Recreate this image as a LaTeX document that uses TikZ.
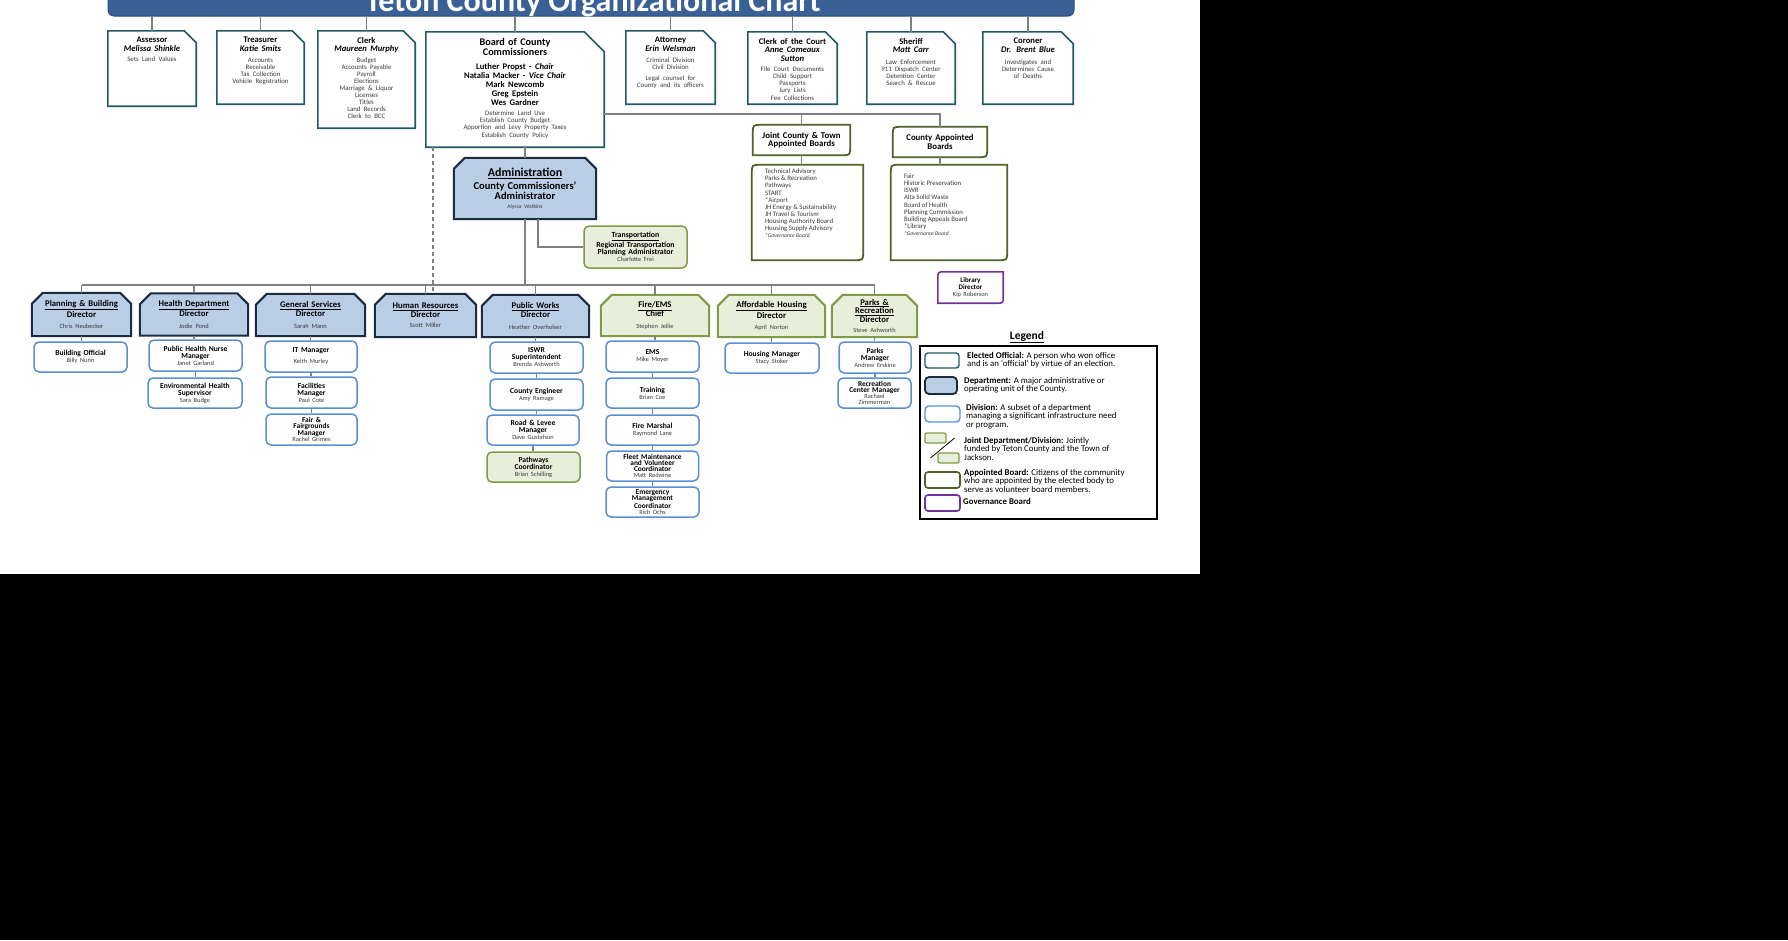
\documentclass[tikz,border=0pt]{standalone}
\usepackage{fontspec}
\setmainfont{Carlito}

\definecolor{titleblue}{HTML}{3A6195}
\definecolor{barline}{HTML}{2B4A73}
\definecolor{electedline}{HTML}{215A66}
\definecolor{deptline}{HTML}{1C2B40}
\definecolor{deptfill}{HTML}{B9CDE5}
\definecolor{divline}{HTML}{5B8FD3}
\definecolor{jointline}{HTML}{7F9B48}
\definecolor{jointfill}{HTML}{E8EED9}
\definecolor{boardline}{HTML}{4F6228}
\definecolor{govline}{HTML}{7030A0}
\definecolor{linkgray}{HTML}{808080}
\definecolor{smalltext}{HTML}{3A3A3A}

\setlength{\lineskiplimit}{-6pt}

\newcommand{\ttl}{\fontsize{8.6}{8.5}\selectfont\bfseries}
\newcommand{\sml}{\fontsize{6.8}{7.1}\selectfont\color{smalltext}}
\newcommand{\dpt}{\fontsize{8.7}{8.6}\selectfont\bfseries}
\newcommand{\dvt}{\fontsize{7.6}{7}\selectfont\bfseries}
\newcommand{\person}[1]{{\fontsize{6.4}{7}\selectfont\mdseries\color{smalltext}#1}}

\tikzset{
  link/.style={draw=linkgray, line width=1.5pt},
  cutNE/.style 2 args={append after command={\pgfextra{\draw[#2]
      (\tikzlastnode.south west) -- (\tikzlastnode.north west)
      -- ([xshift=-#1]\tikzlastnode.north east) -- ([yshift=-#1]\tikzlastnode.north east)
      -- (\tikzlastnode.south east) -- cycle;}}},
  cutTop/.style 2 args={append after command={\pgfextra{\draw[#2]
      (\tikzlastnode.south west) -- ([yshift=-#1]\tikzlastnode.north west)
      -- ([xshift=#1]\tikzlastnode.north west) -- ([xshift=-#1]\tikzlastnode.north east)
      -- ([yshift=-#1]\tikzlastnode.north east) -- (\tikzlastnode.south east) -- cycle;}}},
  roundDiag/.style 2 args={append after command={\pgfextra{\draw[#2]
      (\tikzlastnode.south west) -- ([yshift=-#1]\tikzlastnode.north west)
      .. controls (\tikzlastnode.north west) .. ([xshift=#1]\tikzlastnode.north west)
      -- (\tikzlastnode.north east) -- ([yshift=#1]\tikzlastnode.south east)
      .. controls (\tikzlastnode.south east) .. ([xshift=-#1]\tikzlastnode.south east)
      -- cycle;}}},
  elected/.style={rectangle, inner sep=0pt, cutNE={#1}{draw=electedline, line width=1.6pt, fill=white}},
  elected/.default=12pt,
  department/.style={rectangle, inner sep=0pt, align=center, font=\dpt,
      cutTop={11pt}{draw=deptline, line width=2pt, fill=deptfill}},
  jointdept/.style={rectangle, inner sep=0pt, align=center, font=\dpt,
      cutTop={11pt}{draw=jointline, line width=2pt, fill=jointfill}},
  division/.style={rectangle, rounded corners=5pt, draw=divline, line width=1.5pt, fill=white,
      inner sep=0pt, align=center, font=\dvt},
  jointdiv/.style={division, draw=jointline, fill=jointfill},
  tight/.style={font=\fontsize{7.4}{6.2}\selectfont\bfseries},
  boardbox/.style={rectangle, inner sep=0pt, align=center,
      roundDiag={9pt}{draw=boardline, line width=1.8pt, fill=white}},
  govbox/.style={rectangle, inner sep=0pt, align=center,
      roundDiag={7pt}{draw=govline, line width=1.6pt, fill=white}},
  toplab/.style={anchor=north, yshift=-6pt, inner sep=0pt, align=center, text width=#1},
  listlab/.style={anchor=north west, inner sep=0pt, align=left, font=\sml, xshift=13pt, yshift=-4pt},
  sample/.style={rectangle, rounded corners=3pt, line width=1.4pt, fill=white, inner sep=0pt},
  legtext/.style={anchor=north west, inner sep=0pt, align=left, font=\fontsize{8.8}{8.6}\selectfont},
}

\begin{document}
\begin{tikzpicture}[x=1pt, y=-1pt]

  \useasboundingbox (0,0) rectangle (1788,940);
  \fill[black] (0,0) rectangle (1788,940);
  \fill[white] (0,0) rectangle (1200,574);
  \clip (0,0) rectangle (1200,574);

  % title bar
  \node[rectangle, rounded corners=6pt, draw=barline, line width=1pt, fill=titleblue,
        minimum width=966pt, minimum height=40pt] (bar) at (591,-4) {};
  \node[anchor=base, text=white, font=\fontsize{32}{32}\selectfont\bfseries] (title) at (593,11)
       {Teton County Organizational Chart};

  % elected officials
  \node[elected, minimum width=88pt, minimum height=75pt,
        label={[toplab=82pt]north:{{\ttl Assessor\\\textit{Melissa Shinkle}\endgraf}\vspace{3.5pt}%
        {\sml Sets Land Values\endgraf}}}] (assessor) at (152,68.5) {};
  \node[elected, minimum width=87pt, minimum height=73pt,
        label={[toplab=81pt]north:{{\ttl Treasurer\\\textit{Katie Smits}\endgraf}\vspace{4pt}%
        {\sml Accounts\\Receivable\\Tax Collection\\Vehicle Registration\endgraf}}}] (treasurer) at (260.5,67.5) {};
  \node[elected, minimum width=97pt, minimum height=97pt,
        label={[toplab=91pt]north:{{\ttl Clerk\\\textit{Maureen Murphy}\endgraf}\vspace{3.5pt}%
        {\sml Budget\\Accounts Payable\\Payroll\\Elections\\Marriage \& Liquor\\Licenses\\Titles\\Land Records\\Clerk to BCC\endgraf}}}] (clerk) at (366.5,79.5) {};
  \node[elected=20pt, minimum width=178pt, minimum height=115pt,
        label={[toplab=170pt, yshift=-0.5pt]north:{{\fontsize{10.2}{10}\selectfont\bfseries Board of County\\Commissioners\endgraf}\vspace{5.5pt}%
        {\fontsize{8.6}{8.8}\selectfont\bfseries Luther Propst - \textit{Chair}\\Natalia Macker - \textit{Vice Chair}\\Mark Newcomb\\Greg Epstein\\Wes Gardner\endgraf}\vspace{3.5pt}%
        {\sml Determine Land Use\\Establish County Budget\\Apportion and Levy Property Taxes\\Establish County Policy\endgraf}}}] (board) at (515,89.5) {};
  \node[elected, minimum width=89pt, minimum height=73pt,
        label={[toplab=83pt]north:{{\ttl Attorney\\\textit{Erin Welsman}\endgraf}\vspace{4pt}%
        {\sml Criminal Division\\Civil Division\\[4pt]Legal counsel for\\County and its officers\endgraf}}}] (attorney) at (670.5,67.5) {};
  \node[elected, minimum width=89pt, minimum height=72pt,
        label={[toplab=83pt]north:{{\ttl Clerk of the Court\\\textit{Anne Comeaux}\\\textit{Sutton}\endgraf}\vspace{3.5pt}%
        {\sml File Court Documents\\Child Support\\Passports\\Jury Lists\\Fee Collections\endgraf}}}] (courtclerk) at (792.5,68) {};
  \node[elected, minimum width=88pt, minimum height=72pt,
        label={[toplab=82pt]north:{{\ttl Sheriff\\\textit{Matt Carr}\endgraf}\vspace{4.5pt}%
        {\sml Law Enforcement\\911 Dispatch Center\\Detention Center\\Search \& Rescue\endgraf}}}] (sheriff) at (911,68) {};
  \node[elected, minimum width=90pt, minimum height=72pt,
        label={[toplab=84pt]north:{{\ttl Coroner\\\textit{Dr. Brent Blue}\endgraf}\vspace{5pt}%
        {\sml Investigates and\\Determines Cause\\of Deaths\endgraf}}}] (coroner) at (1028,68) {};

  % administration
  \node[department, minimum width=142pt, minimum height=61pt, text width=136pt] (admin) at (525,188.5)
       {{\fontsize{12}{12}\selectfont\underline{Administration}\endgraf}\vspace{2pt}%
        {\fontsize{10.5}{10.5}\selectfont County Commissioners'\\Administrator\endgraf}%
        {\fontsize{5.6}{8.5}\selectfont\mdseries\color{smalltext}Alyssa Watkins\endgraf}};
  \node[jointdiv, minimum width=103pt, minimum height=42pt, text width=100pt,
        font=\fontsize{7.8}{7.4}\selectfont\bfseries] (transport) at (635.5,247)
       {\underline{Transportation}\\Regional Transportation\\Planning Administrator\\\person{Charlotte Frei}};

  % appointed boards
  \node[boardbox, minimum width=97pt, minimum height=30pt, text width=93pt,
        font=\fontsize{8.8}{8.6}\selectfont\bfseries] (jtab) at (801.5,140) {Joint County \& Town\\Appointed Boards};
  \node[boardbox, minimum width=94pt, minimum height=30pt, text width=90pt,
        font=\fontsize{8.8}{8.6}\selectfont\bfseries] (cab) at (940,142) {County Appointed\\Boards};
  \node[boardbox, minimum width=111pt, minimum height=95pt,
        label={[listlab]north west:{Technical Advisory\\Parks \& Recreation\\Pathways\\START\\*Airport\\JH Energy \& Sustainability\\JH Travel \& Tourism\\Housing Authority Board\\Housing Supply Advisory\\{\fontsize{5.6}{7.1}\selectfont\itshape *Governance Board}}}] (jtlist) at (807.5,212.5) {};
  \node[boardbox, minimum width=116pt, minimum height=95pt,
        label={[listlab, yshift=-5pt]north west:{Fair\\Historic Preservation\\ISWR\\Alta Solid Waste\\Board of Health\\Planning Commission\\Building Appeals Board\\*Library\\{\fontsize{5.6}{7.1}\selectfont\itshape *Governance Board}}}] (calist) at (949,212.5) {};
  \node[govbox, minimum width=65pt, minimum height=31pt, text width=61pt,
        font=\fontsize{7}{7.4}\selectfont\bfseries] (library) at (970.5,287.5) {Library\\Director\\\person{Kip Roberson}};

  % departments
  \node[department, minimum width=99pt, minimum height=43pt, text width=95pt] (planning) at (81.5,314.5)
       {\underline{Planning \& Building}\\Director\\[3pt]\person{Chris Neubecker}};
  \node[department, minimum width=108pt, minimum height=42pt, text width=104pt] (health) at (194,314.5)
       {\underline{Health Department}\\Director\\[3pt]\person{Jodie Pond}};
  \node[department, minimum width=109pt, minimum height=42pt, text width=105pt] (gensvc) at (310.5,315)
       {\underline{General Services}\\Director\\[3pt]\person{Sarah Mann}};
  \node[department, minimum width=101pt, minimum height=43pt, text width=97pt] (hr) at (425.5,315.5)
       {\underline{Human Resources}\\Director\\[2pt]\person{Scott Miller}};
  \node[department, minimum width=107pt, minimum height=42pt, text width=103pt] (pubw) at (535.5,316)
       {\underline{Public Works}\\Director\\[3pt]\person{Heather Overholser}};
  \node[jointdept, minimum width=108pt, minimum height=41pt, text width=104pt] (fire) at (655,315.5)
       {\underline{Fire/EMS}\\Chief\\[3pt]\person{Stephen Jellie}};
  \node[jointdept, minimum width=107pt, minimum height=42pt, text width=103pt] (afh) at (771.5,316)
       {\underline{Affordable Housing}\\Director\\[3pt]\person{April Norton}};
  \node[jointdept, minimum width=85pt, minimum height=42pt, text width=81pt] (parks) at (874.5,316)
       {\underline{Parks \&}\\\underline{Recreation}\\Director\\[2pt]\person{Steve Ashworth}};

  % divisions
  \node[division, minimum width=93pt, minimum height=30pt, text width=89pt] (bldg) at (80.5,357)
       {Building Official\\\person{Billy Nunn}};
  \node[division, minimum width=93pt, minimum height=31pt, text width=89pt] (phn) at (195.5,355.5)
       {Public Health Nurse\\Manager\\\person{Janet Garland}};
  \node[division, minimum width=94pt, minimum height=30pt, text width=90pt] (envh) at (195,393)
       {Environmental Health\\Supervisor\\\person{Sara Budge}};
  \node[division, minimum width=92pt, minimum height=31pt, text width=88pt] (itmgr) at (311,356.5)
       {IT Manager\\[4pt]\person{Keith Murley}};
  \node[division, minimum width=91pt, minimum height=31pt, text width=87pt] (facil) at (311.5,392.5)
       {Facilities\\Manager\\\person{Paul Cote}};
  \node[division, tight, minimum width=91pt, minimum height=31pt, text width=87pt] (fair) at (311.5,429.5)
       {Fair \&\\Fairgrounds\\Manager\\\person{Rachel Grimes}};
  \node[division, minimum width=93pt, minimum height=31pt, text width=89pt] (iswr) at (536.5,357.5)
       {ISWR\\Superintendent\\\person{Brenda Ashworth}};
  \node[division, minimum width=93pt, minimum height=31pt, text width=89pt] (engr) at (536.5,394.5)
       {County Engineer\\\person{Amy Ramage}};
  \node[division, minimum width=92pt, minimum height=30pt, text width=88pt] (road) at (533,430)
       {Road \& Levee\\Manager\\\person{Dave Gustafson}};
  \node[jointdiv, minimum width=93pt, minimum height=30pt, text width=89pt] (pathw) at (533.5,467)
       {Pathways\\Coordinator\\\person{Brian Schilling}};
  \node[division, minimum width=93pt, minimum height=31pt, text width=89pt] (ems) at (652.5,356.5)
       {EMS\\\person{Mike Moyer}};
  \node[division, minimum width=93pt, minimum height=30pt, text width=89pt] (train) at (652.5,393)
       {Training\\\person{Brian Coe}};
  \node[division, minimum width=93pt, minimum height=30pt, text width=89pt] (marsh) at (652.5,430)
       {Fire Marshal\\\person{Raymond Lane}};
  \node[division, tight, minimum width=92pt, minimum height=30pt, text width=88pt] (fleet) at (652.5,466)
       {Fleet Maintenance\\and Volunteer\\Coordinator\\\person{Matt Redwine}};
  \node[division, tight, minimum width=93pt, minimum height=30pt, text width=89pt] (emerg) at (652.5,502)
       {Emergency\\Management\\Coordinator\\\person{Rich Ochs}};
  \node[division, minimum width=94pt, minimum height=30pt, text width=90pt] (housing) at (772,358)
       {Housing Manager\\\person{Stacy Stoker}};
  \node[division, minimum width=72pt, minimum height=31pt, text width=68pt] (parksmgr) at (875,357.5)
       {Parks\\Manager\\\person{Andrew Erskine}};
  \node[division, tight, minimum width=73pt, minimum height=30pt, text width=69pt] (rec) at (874.5,393)
       {Recreation\\Center Manager\\\person{Rachael}\\\person{Zimmerman}};

  % connectors
  \foreach \n in {assessor, treasurer, clerk, board, attorney, courtclerk, sheriff, coroner}
    \draw[link] (bar.south -| \n.north) -- (\n.north);
  \draw[link] (board.south -| admin.north) -- (admin.north);
  \draw[link, line width=1.2pt, dash pattern=on 4pt off 3pt] ([xshift=-82pt]board.south) -- ([xshift=-82pt]board.south |- hr.north);

  \coordinate (boardbus) at (940,114);
  \draw[link] (board.east |- boardbus) -- (boardbus) -- (cab.north);
  \draw[link] (jtab.north |- boardbus) -- (jtab.north);
  \draw[link] (jtab.south) -- (jtab.south |- jtlist.north);
  \draw[link] (cab.south) -- (cab.south |- calist.north);

  \coordinate (deptbus) at (525,285);
  \draw[link] (admin.south) -- (deptbus);
  \draw[link] ([xshift=13pt]admin.south) |- (transport.west);
  \draw[link] (planning.north |- deptbus) -- (parks.north |- deptbus);
  \foreach \d in {planning, health, gensvc, hr, pubw, fire, afh, parks}
    \draw[link] (\d.north |- deptbus) -- (\d.north);

  \foreach \a/\b in {planning/bldg, health/phn, phn/envh, gensvc/itmgr, itmgr/facil, facil/fair,
                     pubw/iswr, iswr/engr, engr/road, road/pathw, fire/ems, ems/train, train/marsh,
                     marsh/fleet, fleet/emerg, afh/housing, parks/parksmgr, parksmgr/rec}
    \draw[link] (\a.south) -- (\a.south |- \b.north);

  % legend
  \node[font=\fontsize{11.5}{12}\selectfont\bfseries] (legendtitle) at (1027,337) {\underline{Legend}};
  \node[rectangle, draw=black, line width=1.8pt, minimum width=237pt, minimum height=173pt] (legend) at (1038.5,432.5) {};

  \node[sample, draw=electedline, minimum width=34pt, minimum height=15pt] (lgelected) at (942,360.5) {};
  \node[sample, draw=deptline, line width=1.8pt, fill=deptfill, rounded corners=4pt,
        minimum width=32pt, minimum height=17pt] (lgdept) at (941,385.5) {};
  \node[sample, draw=divline, rounded corners=4pt, minimum width=35pt, minimum height=16pt] (lgdiv) at (942.5,414) {};
  \node[sample, draw=jointline, fill=jointfill, line width=1.2pt, rounded corners=2pt,
        minimum width=21pt, minimum height=10pt] (lgjointa) at (935.5,438) {};
  \node[sample, draw=jointline, fill=jointfill, line width=1.2pt, rounded corners=2pt,
        minimum width=21pt, minimum height=10pt] (lgjointb) at (948.5,458) {};
  \draw[black, line width=0.8pt] ([xshift=-7pt]lgjointb.west) -- ([xshift=8pt]lgjointa.east);
  \node[sample, draw=boardline, line width=1.6pt, minimum width=35pt, minimum height=16pt] (lgboard) at (942.5,480) {};
  \node[sample, draw=govline, line width=1.6pt, minimum width=35pt, minimum height=16pt] (lggov) at (942.5,503) {};

  \node[legtext] (lgelectedtext) at (967,352) {\textbf{Elected Official:} A person who won office\\and is an `official' by virtue of an election.};
  \node[legtext] (lgdepttext) at (964,377) {\textbf{Department:} A major administrative or\\operating unit of the County.};
  \node[legtext] (lgdivtext) at (966,404) {\textbf{Division:} A subset of a department\\managing a significant infrastructure need\\or program.};
  \node[legtext] (lgjointtext) at (964,437) {\textbf{Joint Department/Division:} Jointly\\funded by Teton County and the Town of\\Jackson.};
  \node[legtext] (lgboardtext) at (964,469) {\textbf{Appointed Board:} Citizens of the community\\who are appointed by the elected body to\\serve as volunteer board members.};
  \node[legtext] (lggovtext) at (963,498) {\textbf{Governance Board}};

\end{tikzpicture}
\end{document}
